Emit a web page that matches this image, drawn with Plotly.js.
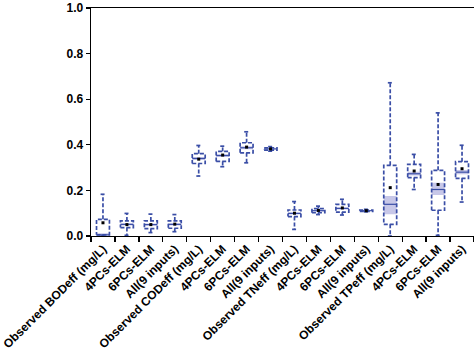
<!DOCTYPE html>
<html>
<head>
<meta charset="utf-8">
<script src="https://cdn.plot.ly/plotly-3.0.1.min.js"></script>
<style>html,body{margin:0;padding:0;background:#fff}#chart{width:474px;height:350px}</style>
</head>
<body>
<div id="chart"></div>
<script>
const categories = [
  "Observed BODeff (mg/L)", "4PCs-ELM", "6PCs-ELM", "All(9 inputs)",
  "Observed CODeff (mg/L)", "4PCs-ELM", "6PCs-ELM", "All(9 inputs)",
  "Observed TNeff (mg/L)", "4PCs-ELM", "6PCs-ELM", "All(9 inputs)",
  "Observed TPeff (mg/L)", "4PCs-ELM", "6PCs-ELM", "All(9 inputs)"
];
const lowerWhisker = [0.000, 0.003, 0.015, 0.019, 0.263, 0.304, 0.321, 0.372, 0.029, 0.094, 0.092, 0.106, 0.000, 0.204, 0.003, 0.149];
const q1           = [0.005, 0.037, 0.032, 0.034, 0.318, 0.327, 0.365, 0.377, 0.085, 0.102, 0.105, 0.108, 0.051, 0.256, 0.113, 0.253];
const median       = [0.005, 0.051, 0.050, 0.051, 0.340, 0.353, 0.387, 0.382, 0.099, 0.111, 0.121, 0.111, 0.139, 0.273, 0.204, 0.280];
const q3           = [0.073, 0.066, 0.066, 0.066, 0.361, 0.371, 0.409, 0.387, 0.114, 0.120, 0.139, 0.114, 0.310, 0.314, 0.288, 0.326];
const upperWhisker = [0.183, 0.099, 0.096, 0.094, 0.397, 0.394, 0.457, 0.392, 0.151, 0.131, 0.161, 0.117, 0.672, 0.358, 0.540, 0.398];
const means        = [0.058, 0.050, 0.050, 0.052, 0.337, 0.355, 0.390, 0.382, 0.100, 0.112, 0.123, 0.111, 0.212, 0.285, 0.226, 0.295];
const ciLow        = [0.002, 0.046, 0.045, 0.046, 0.333, 0.347, 0.380, 0.380, 0.094, 0.108, 0.116, 0.110, 0.095, 0.265, 0.180, 0.271];
const ciHigh       = [0.012, 0.056, 0.055, 0.056, 0.347, 0.359, 0.394, 0.384, 0.104, 0.114, 0.126, 0.112, 0.175, 0.282, 0.234, 0.290];

const boxColor = "#3a4ea6";
const hw = 0.27, cw = 0.1;
const idx = categories.map((_, i) => i);

const ox = [], oy = [], mx = [], my = [], bx = [], by = [];
idx.forEach(i => {
  ox.push(i - hw, i + hw, i + hw, i - hw, i - hw, null);
  oy.push(q1[i], q1[i], q3[i], q3[i], q1[i], null);
  ox.push(i, i, null, i, i, null);
  oy.push(q3[i], upperWhisker[i], null, q1[i], lowerWhisker[i], null);
  ox.push(i - cw, i + cw, null, i - cw, i + cw, null);
  oy.push(upperWhisker[i], upperWhisker[i], null, lowerWhisker[i], lowerWhisker[i], null);
  mx.push(i - hw, i + hw, null);
  my.push(median[i], median[i], null);
  bx.push(i - hw, i + hw, i + hw, i - hw, i - hw, null);
  by.push(ciLow[i], ciLow[i], ciHigh[i], ciHigh[i], ciLow[i], null);
});

const traces = [
  {x: bx, y: by, type: "scatter", mode: "lines", fill: "toself",
   fillcolor: "rgba(130,130,205,0.45)", line: {width: 0}, hoverinfo: "skip"},
  {x: ox, y: oy, type: "scatter", mode: "lines",
   line: {color: boxColor, width: 1.7, dash: "4px,2px"}, hoverinfo: "skip"},
  {x: mx, y: my, type: "scatter", mode: "lines",
   line: {color: boxColor, width: 1.2}, hoverinfo: "skip"},
  {x: idx, y: means, type: "scatter", mode: "markers",
   marker: {color: "#000", size: 3, symbol: "square"}}
];

const layout = {
  width: 474, height: 350,
  margin: {l: 91, r: 0, t: 8, b: 114},
  paper_bgcolor: "#fff", plot_bgcolor: "#fff",
  showlegend: false,
  font: {family: "Liberation Sans, Arial, sans-serif", color: "#000"},
  xaxis: {
    range: [-0.5, 15.5], tickmode: "array", tickvals: idx, ticktext: categories,
    tickangle: -45, ticks: "", showgrid: false, zeroline: false,
    showline: true, mirror: true, linecolor: "#000", linewidth: 1.3,
    tickfont: {size: 12, weight: "bold", color: "#000"},
    minor: {tickmode: "linear", tick0: -0.5, dtick: 1, ticks: "outside", ticklen: 5, tickcolor: "#000", tickwidth: 1.3, showgrid: false}
  },
  yaxis: {
    range: [0, 1], tickvals: [0, 0.2, 0.4, 0.6, 0.8, 1.0],
    ticktext: ["0.0", "0.2", "0.4", "0.6", "0.8", "1.0"],
    ticks: "outside", ticklen: 4, tickwidth: 1.3, tickcolor: "#000",
    showgrid: false, zeroline: false, showline: true, linecolor: "#000", linewidth: 1.3,
    tickfont: {size: 12, weight: "bold", color: "#000"}
  }
};

Plotly.newPlot("chart", traces, layout, {displayModeBar: false, staticPlot: true});
</script>
</body>
</html>
